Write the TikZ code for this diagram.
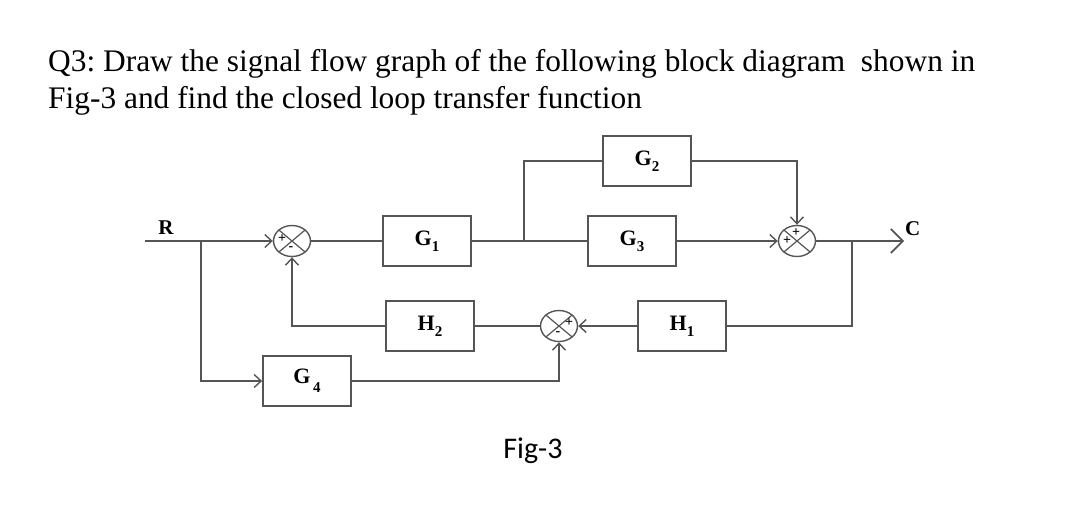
\documentclass[tikz,border=0pt]{standalone}
\usepackage{fontspec}
\setmainfont{Liberation Serif}
\newfontfamily\figfont{Carlito}
\usetikzlibrary{arrows.meta,shapes.geometric}

\definecolor{linegray}{HTML}{555555}

\newcommand{\blocklabel}[3][6pt]{\textbf{#2}\raisebox{-#1}{\fontsize{15}{15}\selectfont\textbf{#3}}}

\tikzset{
	sig/.style = {draw = linegray, line width = 1.7pt},
	tip/.style = {-{Straight Barb[length = 7pt, width = 13pt, line width = 1.4pt]}},
	bigtip/.style = {-{Straight Barb[length = 12pt, width = 24pt, line width = 1.7pt]}},
	block/.style = {draw = linegray, line width = 1.7pt, minimum width = 88pt, minimum height = 50pt, inner sep = 0pt, font = \fontsize{22}{24}\selectfont},
	sumjn/.style = {ellipse, draw = linegray, line width = 1.4pt, minimum width = 37pt, minimum height = 31pt, inner sep = 0pt,
		path picture = {\draw[linegray, line width = 1.2pt] (path picture bounding box.north west) -- (path picture bounding box.south east)
			(path picture bounding box.north east) -- (path picture bounding box.south west);}},
	sgn/.style = {inner sep = 0pt, font = \fontsize{14}{14}\selectfont\bfseries}
}

\begin{document}
\frenchspacing
\begin{tikzpicture}[x = 1pt, y = -1pt]
	\useasboundingbox (0, 0) rectangle (1080, 515);
	
	%	question text
	\node[anchor = base west, inner sep = 0pt, font = \fontsize{31.4}{36}\selectfont] (title1) at (48, 71) {Q3: Draw the signal flow graph of the following block diagram\ \ shown in};
	\node[anchor = base west, inner sep = 0pt, font = \fontsize{31.4}{36}\selectfont] (title2) at (48, 108) {Fig-3 and find the closed loop transfer function};
	
	%	blocks
	\node[block] (G1) at (427, 241) {\blocklabel{G}{1}};
	\node[block] (G2) at (647, 161) {\blocklabel{G}{2}};
	\node[block] (G3) at (632, 241) {\blocklabel{G}{3}};
	\node[block] (H2) at (430, 326) {\blocklabel{H}{2}};
	\node[block] (H1) at (682, 326) {\blocklabel{H}{1}};
	\node[block] (G4) at (307, 381) {\blocklabel[9pt]{G}{\,4}};
	
	%	summing points
	\node[sumjn] (s1) at (292, 241) {};
	\node[sumjn] (s2) at (559, 326) {};
	\node[sumjn] (s3) at (797, 241) {};
	
	\node[sgn] (s1a) at ([shift = {(-10, -2)}]s1.center) {+};
	\node[sgn] (s1b) at ([shift = {(-1, 8)}]s1.center) {-};
	\node[sgn] (s2a) at ([shift = {(10, -3)}]s2.center) {+};
	\node[sgn] (s2b) at ([shift = {(-1, 8)}]s2.center) {-};
	\node[sgn] (s3a) at ([shift = {(-1, -8)}]s3.center) {+};
	\node[sgn] (s3b) at ([shift = {(-10, 0)}]s3.center) {+};
	
	%	signals
	\coordinate (rin) at (145, 241);
	\coordinate (rbr) at (201, 241);
	\coordinate (jn) at (524, 241);
	\coordinate (obr) at (852, 241);
	\coordinate (cout) at (904, 241);
	
	\node[anchor = base, inner sep = 0pt, font = \fontsize{21}{24}\selectfont\bfseries] (R) at (166, 234) {R};
	\node[anchor = base west, inner sep = 0pt, font = \fontsize{21}{24}\selectfont\bfseries] (C) at (905, 235) {C};
	
	\draw[sig, tip] (rin) -- (s1);
	\draw[sig] (s1) -- (G1);
	\draw[sig] (G1) -- (G3);
	\draw[sig] (jn) |- (G2.west);
	\draw[sig, tip] (G2.east) -| (s3.north);
	\draw[sig, tip] (G3) -- (s3);
	\draw[sig, bigtip] (s3) -- (cout);
	\draw[sig] (obr) |- (H1.east);
	\draw[sig, tip] (H1) -- (s2);
	\draw[sig] (s2) -- (H2);
	\draw[sig, tip] (H2.west) -| (s1.south);
	\draw[sig, tip] (rbr) |- (G4.west);
	\draw[sig, tip] (G4.east) -| (s2.south);
	
	%	caption
	\node[inner sep = 0pt, font = \figfont\fontsize{30}{36}\selectfont] (fig) at (533, 451) {Fig-3};
\end{tikzpicture}
\end{document}
